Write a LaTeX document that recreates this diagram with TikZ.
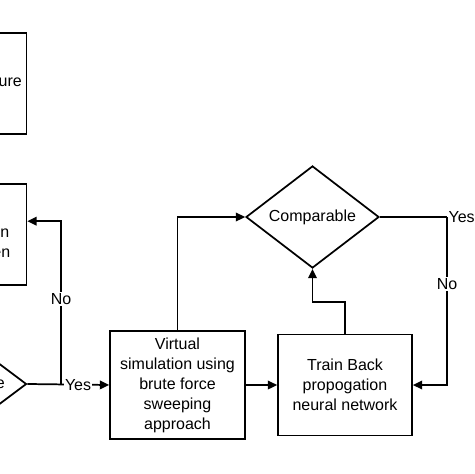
\documentclass[tikz,border=0pt]{standalone}
\usepackage{fontspec}
\setmainfont{Liberation Sans}
\usetikzlibrary{shapes.geometric,arrows.meta,calc}
\begin{document}
\begin{tikzpicture}[x=0.75pt,y=-0.75pt,
	font=\fontsize{12}{15}\selectfont,
	box/.style={draw,line width=1.3pt,align=center,inner sep=2pt},
	dec/.style={draw,diamond,line width=1.3pt,inner sep=0pt,minimum width=99.75pt,minimum height=75pt},
	flow/.style={line width=1.3pt,-{Triangle[length=7pt,width=6.5pt]}},
	lab/.style={fill=white,inner sep=1pt}]
\useasboundingbox (0,0) rectangle (474,474);
%left column, cut by the frame
\node[box,minimum width=101.25pt,minimum height=75.75pt] (struct) at (-41,83.5) {};
\node[box,minimum width=101.25pt,minimum height=75.75pt] (modify) at (-41,234.5) {};
\node[dec] (check) at (-40,384) {};
\node[anchor=east,inner sep=0pt] (t1) at (22,82) {ure};
\node[anchor=east,inner sep=0pt] (t2) at (9.5,233) {n};
\node[anchor=east,inner sep=0pt] (t3) at (10.5,253) {en};
\node[anchor=east,inner sep=0pt] (t4) at (5,384) {e};
%main boxes
\node[box,minimum width=101.25pt,minimum height=81pt] (virt) at (177.5,385) {Virtual\\simulation using\\brute force\\sweeping\\approach};
\node[box,minimum width=100.5pt,minimum height=75.75pt] (train) at (345,385) {Train Back\\propogation\\neural network};
\node[dec] (comp) at (312.5,217) {Comparable};
%turning points
\coordinate (jn) at (61,384);
\coordinate (tk) at (345,302);
\coordinate (yr) at (447,217);
\node[anchor=west,inner sep=1pt] (yes2) at (yr) {Yes};
%arrows
\draw[flow] (check.east) -- node[lab,pos=0.62]{Yes} (virt.west);
\draw[flow] (jn) |- node[lab,pos=0.26]{No} ($(modify.north east)!0.37!(modify.south east)$);
\draw[flow] (virt.east) -- (train.west);
\draw[flow] (virt.north) |- (comp.west);
\draw[flow] (train.north) -- (tk) -| (comp.south);
\draw[line width=1.3pt] (comp.east) -- (yr);
\draw[flow] (yr) |- node[lab,pos=0.2]{No} (train.east);
\end{tikzpicture}
\end{document}
